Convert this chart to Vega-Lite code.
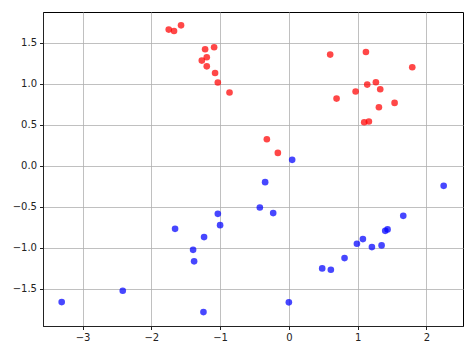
{
  "$schema": "https://vega.github.io/schema/vega-lite/v6.json",
  "autosize": "none",
  "width": 420,
  "height": 314,
  "padding": {"left": 43, "top": 12, "right": 11, "bottom": 29},
  "background": "white",
  "config": {
    "view": {"stroke": "black", "strokeWidth": 1},
    "axis": {
      "labelFont": "DejaVu Sans", "labelFontSize": 10, "labelColor": "#222",
      "domainColor": "#222", "tickColor": "#222", "tickSize": 3.5,
      "gridColor": "#b0b0b0", "gridWidth": 0.8, "labelPadding": 3, "title": null
    }
  },
  "data": {"values": [
    {"x": -1.747, "y": 1.661, "g": "red"},
    {"x": -1.670, "y": 1.644, "g": "red"},
    {"x": -1.568, "y": 1.713, "g": "red"},
    {"x": -1.218, "y": 1.421, "g": "red"},
    {"x": -1.087, "y": 1.445, "g": "red"},
    {"x": -1.194, "y": 1.323, "g": "red"},
    {"x": -1.266, "y": 1.283, "g": "red"},
    {"x": -1.194, "y": 1.213, "g": "red"},
    {"x": -1.073, "y": 1.132, "g": "red"},
    {"x": -1.033, "y": 1.015, "g": "red"},
    {"x": -0.863, "y": 0.893, "g": "red"},
    {"x": 0.601, "y": 1.356, "g": "red"},
    {"x": 1.121, "y": 1.388, "g": "red"},
    {"x": 1.795, "y": 1.201, "g": "red"},
    {"x": 1.266, "y": 1.018, "g": "red"},
    {"x": 1.140, "y": 0.990, "g": "red"},
    {"x": 1.329, "y": 0.933, "g": "red"},
    {"x": 0.971, "y": 0.905, "g": "red"},
    {"x": 0.694, "y": 0.819, "g": "red"},
    {"x": 1.538, "y": 0.766, "g": "red"},
    {"x": 1.310, "y": 0.713, "g": "red"},
    {"x": 1.096, "y": 0.530, "g": "red"},
    {"x": 1.164, "y": 0.539, "g": "red"},
    {"x": -0.320, "y": 0.323, "g": "red"},
    {"x": -0.160, "y": 0.156, "g": "red"},
    {"x": 0.048, "y": 0.071, "g": "blue"},
    {"x": -0.345, "y": -0.201, "g": "blue"},
    {"x": -0.422, "y": -0.510, "g": "blue"},
    {"x": -1.033, "y": -0.588, "g": "blue"},
    {"x": -1.000, "y": -0.726, "g": "blue"},
    {"x": -1.655, "y": -0.771, "g": "blue"},
    {"x": -1.233, "y": -0.872, "g": "blue"},
    {"x": -1.393, "y": -1.027, "g": "blue"},
    {"x": -1.378, "y": -1.168, "g": "blue"},
    {"x": -2.416, "y": -1.527, "g": "blue"},
    {"x": -3.304, "y": -1.665, "g": "blue"},
    {"x": -1.242, "y": -1.787, "g": "blue"},
    {"x": -0.228, "y": -0.579, "g": "blue"},
    {"x": 2.252, "y": -0.246, "g": "blue"},
    {"x": 1.664, "y": -0.612, "g": "blue"},
    {"x": 1.436, "y": -0.778, "g": "blue"},
    {"x": 1.402, "y": -0.795, "g": "blue"},
    {"x": 1.077, "y": -0.896, "g": "blue"},
    {"x": 0.990, "y": -0.953, "g": "blue"},
    {"x": 1.349, "y": -0.973, "g": "blue"},
    {"x": 1.208, "y": -0.994, "g": "blue"},
    {"x": 0.810, "y": -1.128, "g": "blue"},
    {"x": 0.485, "y": -1.254, "g": "blue"},
    {"x": 0.611, "y": -1.271, "g": "blue"},
    {"x": 0.000, "y": -1.668, "g": "blue"}
  ]},
  "mark": {"type": "circle", "size": 44, "opacity": 0.72},
  "encoding": {
    "x": {"field": "x", "type": "quantitative",
      "scale": {"domain": [-3.576, 2.533], "nice": false, "zero": false},
      "axis": {"values": [-3, -2, -1, 0, 1, 2], "format": "d"}},
    "y": {"field": "y", "type": "quantitative",
      "scale": {"domain": [-1.957, 1.876], "nice": false, "zero": false},
      "axis": {"values": [-1.5, -1, -0.5, 0, 0.5, 1, 1.5], "format": ".1f"}},
    "color": {"field": "g", "type": "nominal",
      "scale": {"domain": ["red", "blue"], "range": ["#ff0000", "#0000ff"]},
      "legend": null}
  }
}
